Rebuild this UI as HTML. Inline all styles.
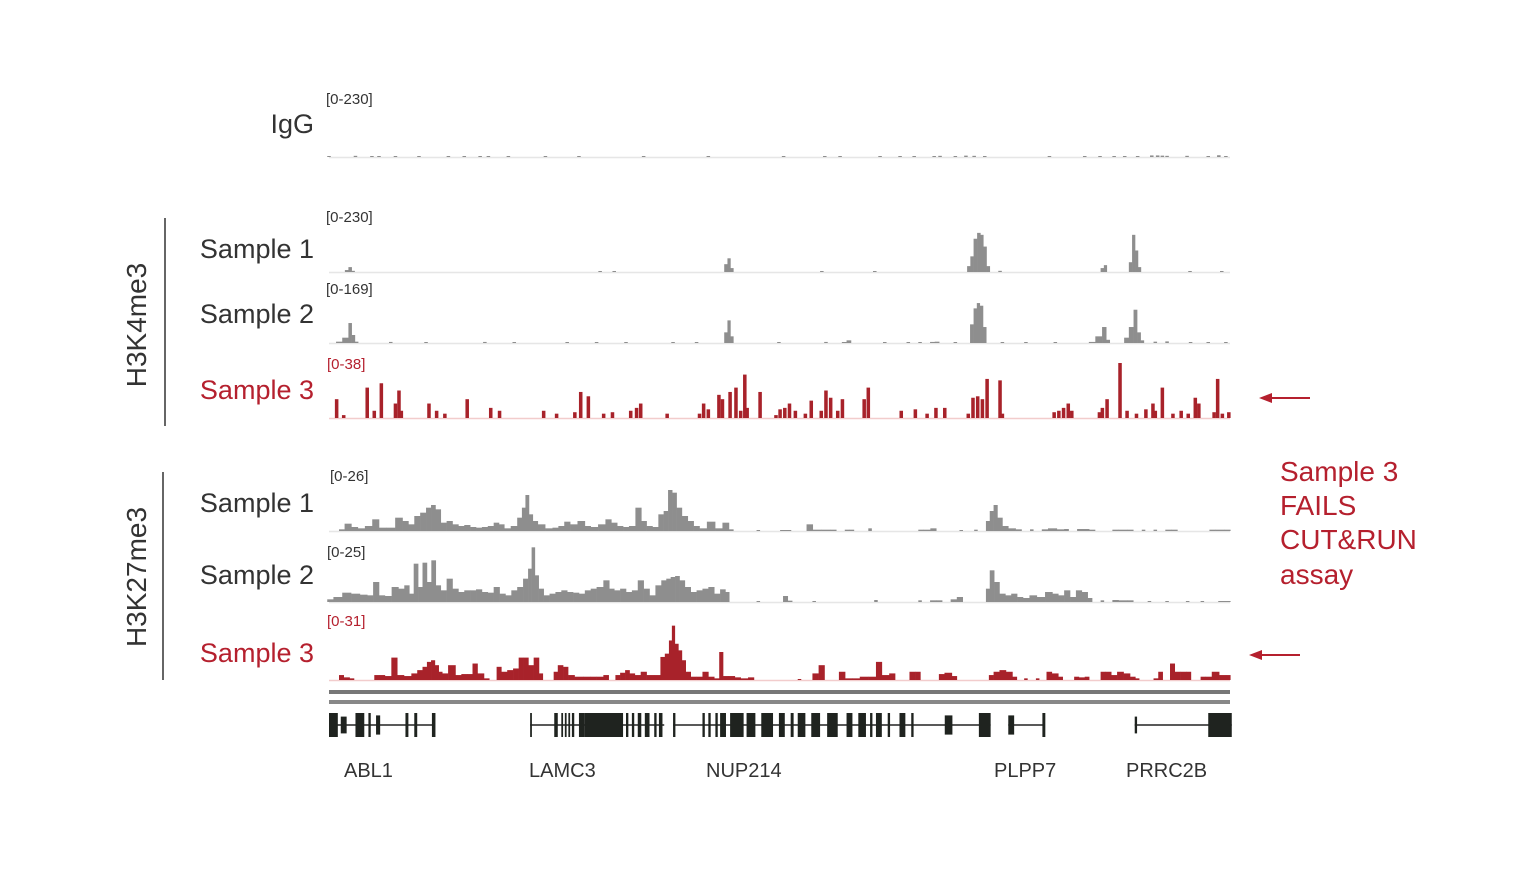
<!DOCTYPE html>
<html><head><meta charset="utf-8"><style>
html,body{margin:0;padding:0;background:#fff;width:1536px;height:873px;overflow:hidden}
svg{display:block}
text{font-family:"Liberation Sans",sans-serif}
</style></head><body>
<svg id="chart" width="1536" height="873" viewBox="0 0 1536 873">
<g id="labels">
<text x="326" y="104" font-size="15" fill="#333">[0-230]</text>
<text x="314" y="133" font-size="27" fill="#333" text-anchor="end">IgG</text>
<text x="326" y="222" font-size="15" fill="#333">[0-230]</text>
<text x="314" y="258" font-size="27" fill="#333" text-anchor="end">Sample 1</text>
<text x="326" y="294" font-size="15" fill="#333">[0-169]</text>
<text x="314" y="323" font-size="27" fill="#333" text-anchor="end">Sample 2</text>
<text x="327" y="369" font-size="15" fill="#b5202e">[0-38]</text>
<text x="314" y="399" font-size="27" fill="#b5202e" text-anchor="end">Sample 3</text>
<text x="330" y="481" font-size="15" fill="#333">[0-26]</text>
<text x="314" y="512" font-size="27" fill="#333" text-anchor="end">Sample 1</text>
<text x="327" y="557" font-size="15" fill="#333">[0-25]</text>
<text x="314" y="584" font-size="27" fill="#333" text-anchor="end">Sample 2</text>
<text x="327" y="626" font-size="15" fill="#b5202e">[0-31]</text>
<text x="314" y="662" font-size="27" fill="#b5202e" text-anchor="end">Sample 3</text>
<line x1="165" y1="218" x2="165" y2="426" stroke="#333" stroke-width="1.5"/>
<line x1="163" y1="472" x2="163" y2="680" stroke="#333" stroke-width="1.5"/>
<text transform="translate(146,325) rotate(-90)" font-size="28" fill="#333" text-anchor="middle">H3K4me3</text>
<text transform="translate(146,577) rotate(-90)" font-size="28" fill="#333" text-anchor="middle">H3K27me3</text>
<g fill="#b5202e" font-size="28">
<text x="1280" y="481">Sample 3</text>
<text x="1280" y="515">FAILS</text>
<text x="1280" y="549">CUT&amp;RUN</text>
<text x="1280" y="584">assay</text>
</g>
<g stroke="#b5202e" stroke-width="2" fill="#b5202e">
<line x1="1266" y1="398" x2="1310" y2="398"/>
<polygon points="1259,398 1272,393 1272,403" stroke="none"/>
<line x1="1256" y1="655" x2="1300" y2="655"/>
<polygon points="1249,655 1262,650 1262,660" stroke="none"/>
</g>
<rect x="329" y="690" width="901" height="4" fill="#777"/>
<rect x="329" y="700" width="901" height="4" fill="#888"/>
<g font-size="20" fill="#333">
<text x="344" y="777">ABL1</text><text x="529" y="777">LAMC3</text><text x="706" y="777">NUP214</text><text x="994" y="777">PLPP7</text><text x="1126" y="777">PRRC2B</text>
</g>
</g>
<g id="tracks"></g>
<g id="genes"></g>
</svg>
<script>
const igg=[[15,4],[60,6],[88,3],[100,3],[128,5],[168,3],[218,3],[245,3],[272,5],[286,4],[320,3],[383,3],[440,3],[550,3],[660,2],[788,5],[858,3],[884,3],[952,3],[986,3],[1010,3],[1044,4],[1054,6],[1080,5],[1098,7],[1112,6],[1130,4],[1240,4],[1300,3],[1326,3],[1350,4],[1368,3],[1390,4],[1414,8],[1424,8],[1432,7],[1440,6],[1474,6],[1510,3],[1528,9],[1540,4]];
const k4s1=[[45,10],[51,25],[56,6],[476,3],[500,3],[690,40],[695,70],[700,20],[853,4],[943,4],[1103,30],[1108,80],[1114,170],[1120,200],[1125,190],[1130,130],[1136,30],[1156,6],[1330,20],[1335,35],[1378,50],[1383,190],[1388,110],[1393,25],[1479,5],[1533,5]];
const k4s2=[[30,5],[45,20],[51,75],[56,30],[62,5],[120,4],[180,3],[280,4],[330,3],[420,3],[470,3],[520,3],[600,3],[640,3],[690,40],[695,85],[700,25],[780,3],[860,4],[890,3],[900,10],[960,3],[1000,3],[1020,3],[1040,4],[1050,5],[1080,3],[1108,70],[1114,130],[1119,150],[1124,140],[1130,60],[1160,3],[1200,3],[1250,3],[1310,4],[1326,25],[1333,60],[1340,12],[1370,20],[1380,60],[1386,125],[1392,40],[1398,10],[1420,5],[1440,6],[1480,3],[1510,3],[1540,3]];
const k4s3=[[28,13],[40,2],[80,21],[92,5],[104,24],[128,10],[134,19],[138,5],[185,10],[198,5],[212,3],[250,13],[290,7],[305,5],[380,5],[402,3],[433,4],[443,18],[456,15],[482,3],[497,4],[528,5],[538,7],[545,10],[590,3],[645,3],[652,10],[660,6],[678,16],[684,13],[697,18],[707,21],[715,5],[722,30],[726,7],[748,18],[775,2],[782,6],[790,7],[798,10],[808,5],[825,3],[835,12],[852,5],[860,19],[868,14],[880,5],[888,13],[925,13],[932,21],[988,5],[1012,6],[1032,3],[1047,7],[1062,7],[1102,3],[1110,14],[1118,15],[1126,13],[1134,27],[1156,26],[1160,3],[1248,4],[1256,5],[1264,7],[1272,10],[1278,5],[1325,4],[1330,7],[1338,13],[1360,38],[1372,5],[1388,3],[1404,6],[1416,10],[1420,5],[1432,21],[1450,3],[1464,5],[1476,3],[1488,14],[1494,10],[1520,4],[1526,27],[1534,3],[1545,4]];
const k27s1=[[35,5],[48,22],[58,12],[70,8],[82,15],[95,35],[105,10],[120,10],[135,40],[145,30],[155,20],[165,45],[175,55],[185,70],[192,78],[200,65],[210,25],[220,30],[230,20],[240,15],[250,18],[260,12],[270,10],[280,12],[290,15],[300,25],[308,20],[318,8],[330,15],[340,40],[346,70],[352,108],[358,50],[365,30],[375,20],[390,8],[400,10],[410,15],[420,28],[430,20],[445,30],[455,15],[465,12],[480,20],[490,35],[500,25],[510,15],[520,12],[530,15],[542,70],[550,30],[560,15],[570,12],[580,50],[588,60],[595,123],[602,115],[610,70],[620,45],[630,30],[640,15],[650,8],[665,28],[678,8],[690,25],[700,5],[745,3],[785,3],[798,3],[830,20],[845,4],[860,4],[875,4],[895,4],[905,4],[935,8],[1020,4],[1030,4],[1045,8],[1090,3],[1115,4],[1135,30],[1142,60],[1148,78],[1155,40],[1165,15],[1175,8],[1190,5],[1210,5],[1230,5],[1245,8],[1260,5],[1270,6],[1290,6],[1300,6],[1315,4],[1350,4],[1365,4],[1380,4],[1400,4],[1420,4],[1440,4],[1455,4],[1515,4],[1530,4],[1545,4]];
const k27s2=[[15,8],[30,15],[45,28],[60,25],[75,22],[85,20],[95,60],[105,20],[115,18],[128,45],[138,40],[148,50],[155,25],[163,115],[170,45],[178,118],[185,60],[193,125],[200,50],[210,35],[220,70],[230,40],[240,30],[250,35],[260,35],[270,38],[280,30],[290,28],[300,45],[310,25],[320,20],[330,35],[340,45],[350,70],[357,100],[362,164],[368,80],[375,40],[385,20],[395,25],[405,30],[415,35],[425,30],[435,28],[445,25],[455,35],[465,40],[475,45],[488,65],[495,40],[505,35],[515,40],[525,30],[535,35],[545,65],[555,40],[565,20],[575,50],[585,65],[592,70],[600,75],[607,78],[615,65],[625,45],[635,30],[645,35],[655,40],[665,45],[675,25],[685,38],[693,30],[745,3],[790,18],[800,4],[840,3],[945,6],[1020,5],[1040,5],[1055,5],[1075,8],[1090,15],[1135,40],[1142,95],[1150,60],[1160,25],[1170,20],[1180,25],[1190,15],[1200,12],[1212,20],[1225,15],[1240,30],[1250,25],[1260,20],[1270,35],[1280,15],[1290,35],[1300,30],[1310,12],[1330,5],[1350,6],[1365,5],[1380,5],[1410,3],[1440,3],[1475,3],[1500,3],[1530,3],[1545,3]];
const k27s3=[[35,15],[45,8],[55,5],[95,15],[105,15],[115,12],[127,68],[135,15],[150,12],[160,20],[170,30],[178,40],[185,55],[192,60],[198,45],[205,25],[210,20],[225,45],[235,15],[245,18],[255,18],[263,50],[272,20],[285,5],[303,40],[313,25],[323,30],[333,35],[342,68],[350,68],[358,45],[368,68],[376,20],[400,25],[408,45],[418,40],[425,15],[440,10],[455,10],[465,10],[475,10],[488,15],[505,15],[515,22],[522,30],[530,20],[540,15],[550,25],[560,15],[575,15],[582,70],[590,80],[596,120],[600,165],[606,110],[612,90],[618,60],[625,25],[635,10],[645,10],[655,25],[665,10],[675,5],[682,85],[688,12],[700,12],[710,8],[720,5],[735,8],[815,3],[840,20],[855,45],[885,25],[900,5],[910,5],[925,10],[940,10],[950,55],[960,15],[975,20],[1005,25],[1018,25],[1055,18],[1068,22],[1080,12],[1140,15],[1150,25],[1160,30],[1172,25],[1182,10],[1200,5],[1220,5],[1238,25],[1250,20],[1260,10],[1285,10],[1295,8],[1305,10],[1330,25],[1340,25],[1350,15],[1360,25],[1372,20],[1382,10],[1390,5],[1420,5],[1430,25],[1448,50],[1458,25],[1468,25],[1478,25],[1500,10],[1510,10],[1522,25],[1535,15],[1545,15]];
const k27s1Max=135, k27s2Max=165, k27s3Max=170;
const geneLines=[[15,195],[357,585],[600,1140],[1170,1232],[1385,1550]];
const exons=[[15,30,1],[35,45,0.7],[60,75,1],[82,86,1],[95,102,0.8],[145,150,1],[160,165,1],[190,196,1],[357,360,1],[398,404,1],[410,413,1],[416,419,1],[422,425,1],[428,432,1],[440,450,1],[450,515,1],[520,524,1],[530,534,1],[540,546,1],[552,560,1],[568,572,1],[576,582,1],[600,604,1],[650,654,1],[660,664,1],[672,676,1],[680,690,1],[697,720,1],[725,740,1],[750,770,1],[780,790,1],[800,805,1],[812,825,1],[835,850,1],[862,880,1],[895,905,1],[915,928,1],[935,939,1],[945,955,1],[965,969,1],[985,995,1],[1005,1009,1],[1062,1075,0.8],[1120,1140,1],[1170,1180,0.8],[1228,1233,1],[1385,1389,0.7],[1510,1550,1]];

const X0=329,X1=1230,D0=15,D1=1547;
function x(p){return X0+(p-D0)*(X1-X0)/(D1-D0);}
const NS='http://www.w3.org/2000/svg';
const tracks=document.getElementById('tracks');
function track(name,data,max,base,h,color,line,fill){
  const g=document.createElementNS(NS,'g');
  
  
  const bl=document.createElementNS(NS,'line');
  bl.setAttribute('x1',X0);bl.setAttribute('x2',X1);bl.setAttribute('y1',base+0.5);bl.setAttribute('y2',base+0.5);
  bl.setAttribute('stroke',line);bl.setAttribute('stroke-width','1.5');
  
  
  g.appendChild(bl);
  const u=(X1-X0)/(D1-D0);
  data.forEach((d,i)=>{
    const r=document.createElementNS(NS,'rect');
    const bh=Math.max(1,Math.min(d[1],max)/max*h);
    let x0=x(d[0])-3*u, x1=x(d[0])+3*u;
    if(fill){
      const nx=data[i+1], pv=data[i-1];
      if(nx && nx[0]-d[0]<=16) x1=x((d[0]+nx[0])/2)+0.3;
      if(pv && d[0]-pv[0]<=16) x0=x((d[0]+pv[0])/2);
    }
    r.setAttribute('x',x0.toFixed(2));
    r.setAttribute('y',(base-bh).toFixed(2));
    r.setAttribute('width',(x1-x0).toFixed(2));
    r.setAttribute('height',bh.toFixed(2));
    r.setAttribute('fill',color);
    
    
    g.appendChild(r);
  });
  tracks.appendChild(g);
}
const G='#8e8e8e',R='#a8222a';
track('igg-track',igg,230,157,45,G,'#e6e6e6',false);
track('h3k4me3-sample1-track',k4s1,230,272,45,G,'#e6e6e6',true);
track('h3k4me3-sample2-track',k4s2,169,343,45,G,'#e6e6e6',true);
track('h3k4me3-sample3-track',k4s3,38,418,55,R,'#f2cccc',false);
track('h3k27me3-sample1-track',k27s1,k27s1Max,531,45,G,'#e6e6e6',true);
track('h3k27me3-sample2-track',k27s2,k27s2Max,602,55,G,'#e6e6e6',true);
track('h3k27me3-sample3-track',k27s3,k27s3Max,680,56,R,'#f2cccc',true);

const genes=document.getElementById('genes');


const cy=725;
geneLines.forEach(l=>{
  const e=document.createElementNS(NS,'line');
  e.setAttribute('x1',x(l[0]));e.setAttribute('x2',x(l[1]));e.setAttribute('y1',cy);e.setAttribute('y2',cy);
  e.setAttribute('stroke','#222');e.setAttribute('stroke-width','1.5');
  
  
  genes.appendChild(e);
});
exons.forEach(ex=>{
  const r=document.createElementNS(NS,'rect');
  const hh=24*ex[2];
  r.setAttribute('x',x(ex[0]));r.setAttribute('width',Math.max(1.5,x(ex[1])-x(ex[0])));
  r.setAttribute('y',cy-hh/2);r.setAttribute('height',hh);r.setAttribute('fill','#1f231f');
  
  
  genes.appendChild(r);
});
</script>
</body></html>
